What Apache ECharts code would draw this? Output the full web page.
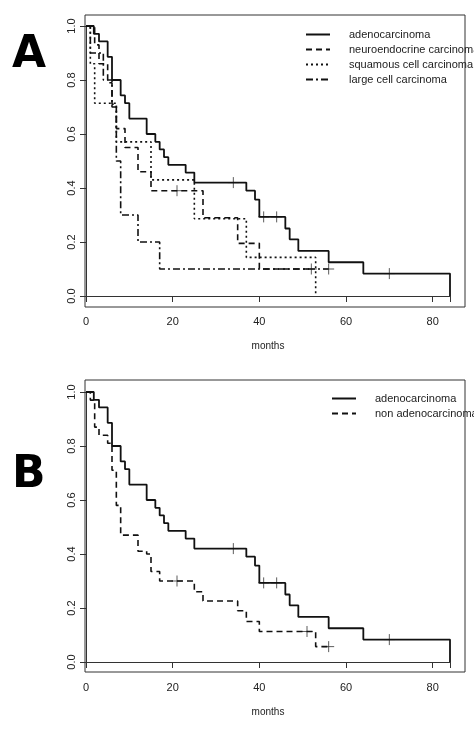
<!DOCTYPE html>
<html>
<head>
<meta charset="utf-8">
<script src="https://cdn.jsdelivr.net/npm/echarts@6/dist/echarts.min.js"></script>
<style>html,body{margin:0;background:#fff}#c{width:474px;height:734px}</style>
</head>
<body>
<div id="c"></div>
<script>
// survival curves, [month, survival] steps
const adeno = [[0,1],[1.8,0.971],[3,0.943],[5,0.886],[6,0.8],[8,0.743],[9,0.714],[10,0.657],[14,0.6],[16,0.571],[17,0.543],[18,0.514],[19,0.486],[23,0.457],[25,0.42],[37,0.39],[39,0.357],[40,0.293],[46,0.25],[47,0.21],[49,0.167],[56,0.125],[64,0.083],[84,0.083],[84,0]]
const adenoCens = [[34,0.42],[41,0.293],[44,0.293],[70,0.083]]
const neuro = [[0,1],[2,0.93],[3,0.86],[5,0.79],[6,0.71],[7,0.62],[9,0.55],[12,0.46],[15,0.39],[27,0.29],[35,0.195],[40,0.1],[52,0.1]]
const neuroCens = [[21,0.39],[52,0.1]]
const squam = [[0,1],[1,0.86],[2,0.714],[7,0.571],[15,0.43],[25,0.286],[37,0.143],[53,0.143],[53,0]]
const large = [[0,1],[1,0.9],[4,0.8],[6,0.7],[7,0.5],[8,0.3],[12,0.2],[17,0.1],[56,0.1]]
const largeCens = [[56,0.1]]
const nonAdeno = [[0,1],[1,0.97],[2,0.87],[3,0.84],[5,0.81],[6,0.71],[7,0.58],[8,0.47],[12,0.41],[14,0.4],[15,0.335],[17,0.3],[25,0.26],[27,0.226],[35,0.19],[37,0.15],[40,0.113],[53,0.057],[56,0.057]]
const nonAdenoCens = [[21,0.3],[51,0.113],[56,0.057]]
const xTicks = [0, 20, 40, 60, 80]
const yTicks = [0, 0.2, 0.4, 0.6, 0.8, 1.0]

const font = 'Liberation Sans'
const plus = 'path://M0,-1L0,1M-1,0L1,0'
const dash = { neuro: [6, 4], squam: [2, 3], large: [7, 3, 2, 3], solid: 'solid' }

function line(name, data, type, g) {
  return {
    name: name, type: 'line', step: 'end', data: data, xAxisIndex: g, yAxisIndex: g,
    showSymbol: false, symbol: 'none', animation: false,
    lineStyle: { color: '#111', width: type === 'solid' ? 1.8 : 1.6, type: dash[type] },
    itemStyle: { color: '#111' }
  }
}
function cens(data, g) {
  return {
    type: 'scatter', data: data, xAxisIndex: g, yAxisIndex: g, symbol: plus, symbolSize: 11,
    itemStyle: { color: 'none', borderColor: '#333', borderWidth: 1 }, silent: true, animation: false
  }
}
function xAx(g, show) {
  return {
    gridIndex: g, type: 'value', min: 0, max: show ? 84 : 1, interval: 20, show: show, offset: 11,
    splitLine: { show: false },
    axisLine: { lineStyle: { color: '#333' } }, axisTick: { length: 6, lineStyle: { color: '#333' } },
    axisLabel: { color: '#222', fontFamily: font, fontSize: 11, margin: 9,
      formatter: function (v) { return xTicks.indexOf(v) >= 0 ? v : '' } },
    name: show ? 'months' : '', nameLocation: 'middle', nameGap: 34,
    nameTextStyle: { color: '#222', fontFamily: font, fontSize: 10 }
  }
}
function yAx(g, show) {
  return {
    gridIndex: g, type: 'value', min: 0, max: 1, interval: 0.2, show: show, offset: 1,
    splitLine: { show: false },
    axisLine: { show: true, lineStyle: { color: '#333' } }, axisTick: { show: true, length: 6, lineStyle: { color: '#333' } },
    axisLabel: { color: '#222', fontFamily: font, fontSize: 11, rotate: 90, margin: 8,
      formatter: function (v) { return yTicks.indexOf(+v.toFixed(1)) >= 0 ? v.toFixed(1) : '' } }
  }
}
const legendBase = {
  orient: 'vertical', itemWidth: 24, itemHeight: 8, itemGap: 4,
  itemStyle: { color: 'transparent', borderWidth: 0 },
  textStyle: { fontFamily: font, fontSize: 11, color: '#222', padding: [0, 0, 0, 14] }
}

let myChart = echarts.init(document.getElementById('c'), null, { renderer: 'canvas' })
myChart.setOption({
  backgroundColor: '#fff',
  graphic: [
    { type: 'text', left: 12, top: 34, style: { text: 'A', fontSize: 44, fontWeight: 'bold', fontFamily: 'DejaVu Sans', fill: '#000' } },
    { type: 'text', left: 12, top: 454, style: { text: 'B', fontSize: 44, fontWeight: 'bold', fontFamily: 'DejaVu Sans', fill: '#000' } }
  ],
  grid: [
    { left: 86, width: 364, top: 26, height: 270 },
    { left: 85, right: 9, top: 15, height: 292, show: true, borderColor: '#333', borderWidth: 1 },
    { left: 86, width: 364, top: 392, height: 270 },
    { left: 85, right: 9, top: 380, height: 292, show: true, borderColor: '#333', borderWidth: 1 }
  ],
  xAxis: [xAx(0, true), xAx(1, false), xAx(2, true), xAx(3, false)],
  yAxis: [yAx(0, true), yAx(1, false), yAx(2, true), yAx(3, false)],
  legend: [
    Object.assign({}, legendBase, { data: ['adenocarcinoma', 'neuroendocrine carcinoma', 'squamous cell carcinoma', 'large cell carcinoma'], left: 300, top: 24 }),
    Object.assign({}, legendBase, { data: ['adenocarcinoma', 'non adenocarcinoma'], left: 326, top: 388 })
  ],
  series: [
    line('adenocarcinoma', adeno, 'solid', 0), cens(adenoCens, 0),
    line('neuroendocrine carcinoma', neuro, 'neuro', 0), cens(neuroCens, 0),
    line('squamous cell carcinoma', squam, 'squam', 0),
    line('large cell carcinoma', large, 'large', 0), cens(largeCens, 0),
    line('adenocarcinoma', adeno, 'solid', 2), cens(adenoCens, 2),
    line('non adenocarcinoma', nonAdeno, 'neuro', 2), cens(nonAdenoCens, 2)
  ]
})
</script>
</body>
</html>
